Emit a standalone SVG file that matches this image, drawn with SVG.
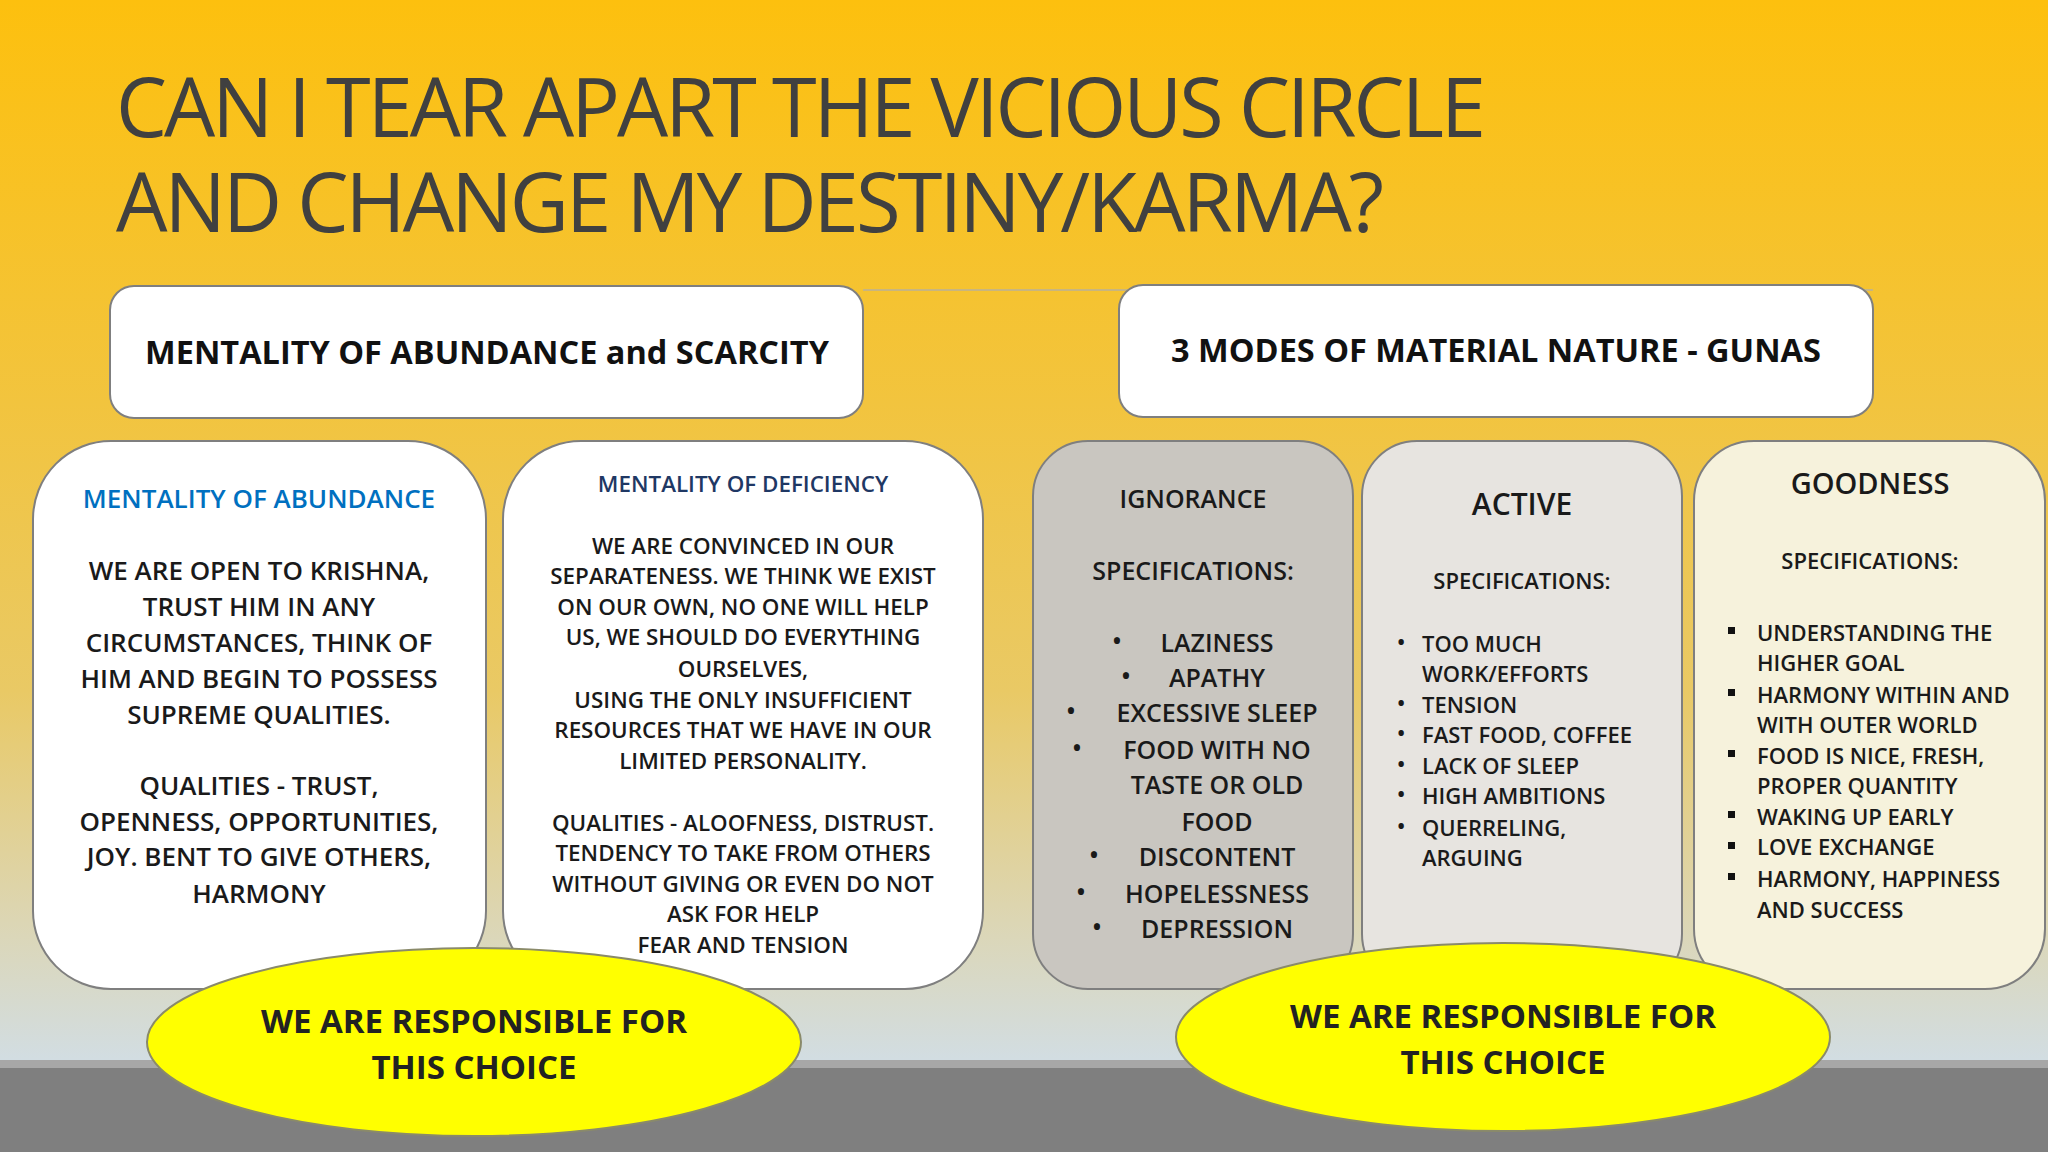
<svg xmlns="http://www.w3.org/2000/svg" width="2048" height="1152" viewBox="0 0 2048 1152">
<defs>
<linearGradient id="bg" x1="0" y1="0" x2="0" y2="1">
<stop offset="0" stop-color="#fdc00e"/>
<stop offset="0.35" stop-color="#f2c43e"/>
<stop offset="0.6" stop-color="#e9c965"/>
<stop offset="0.8" stop-color="#dcd6b4"/>
<stop offset="0.92" stop-color="#d2dde2"/>
<stop offset="1" stop-color="#d2dde2"/>
</linearGradient>
<style>
text{font-family:"Open Sans","Liberation Sans",sans-serif;font-weight:600;fill:#1a1a1a}
.title{font-size:82px;font-weight:400;fill:#404040;letter-spacing:-3px}
.hdr{font-size:32.5px;font-weight:700;text-anchor:middle;fill:#111}
.c1{font-size:26px;text-anchor:middle}
.c2{font-size:22.4px;text-anchor:middle}
.c3{font-size:25px;text-anchor:middle}
.c4{font-size:22px}
.sp{font-size:22px;text-anchor:middle}
.card{stroke:#7f7f7f;stroke-width:2}
.ell{fill:#ffff00;stroke:#8a8a6a;stroke-width:2}
.et{font-size:33px;font-weight:700;text-anchor:middle;fill:#222}
</style>
</defs>
<rect width="2048" height="1152" fill="url(#bg)"/>
<rect x="0" y="1060" width="2048" height="10" fill="#a7a7a7"/>
<rect x="0" y="1068" width="2048" height="84" fill="#7f7f7f"/>
<text class="title" x="116" y="137" textLength="1367" lengthAdjust="spacingAndGlyphs">CAN I TEAR APART THE VICIOUS CIRCLE</text>
<text class="title" x="116" y="232" textLength="1265" lengthAdjust="spacingAndGlyphs">AND CHANGE MY DESTINY/KARMA?</text>
<g id="connectors"><line x1="863" y1="290" x2="1873" y2="290" stroke="#b8b09a" stroke-width="1.5"/></g>
<g id="header1"><rect class="card" x="110" y="286" width="753" height="132" rx="24" fill="#fff"/><text class="hdr" x="487" y="364">MENTALITY OF ABUNDANCE and SCARCITY</text></g>
<g id="header2"><rect class="card" x="1119" y="285" width="754" height="132" rx="24" fill="#fff"/><text class="hdr" x="1496" y="362">3 MODES OF MATERIAL NATURE - GUNAS</text></g>
<g id="abundance"><rect class="card" x="33" y="441" width="453" height="548" rx="78" fill="#fff"/>
<text class="c1" x="259" y="508" style="fill:#0070c0">MENTALITY OF ABUNDANCE</text>
<text class="c1" x="259" y="580">WE ARE OPEN TO KRISHNA,</text>
<text class="c1" x="259" y="616">TRUST HIM IN ANY</text>
<text class="c1" x="259" y="652">CIRCUMSTANCES, THINK OF</text>
<text class="c1" x="259" y="688">HIM AND BEGIN TO POSSESS</text>
<text class="c1" x="259" y="724">SUPREME QUALITIES.</text>
<text class="c1" x="259" y="795">QUALITIES - TRUST,</text>
<text class="c1" x="259" y="831">OPENNESS, OPPORTUNITIES,</text>
<text class="c1" x="259" y="866">JOY. BENT TO GIVE OTHERS,</text>
<text class="c1" x="259" y="903">HARMONY</text></g>
<g id="deficiency"><rect class="card" x="503" y="441" width="480" height="548" rx="78" fill="#fff"/>
<text class="c2" x="743" y="492" style="fill:#1f3864">MENTALITY OF DEFICIENCY</text>
<text class="c2" x="743" y="554">WE ARE CONVINCED IN OUR</text>
<text class="c2" x="743" y="584">SEPARATENESS. WE THINK WE EXIST</text>
<text class="c2" x="743" y="615">ON OUR OWN, NO ONE WILL HELP</text>
<text class="c2" x="743" y="645">US, WE SHOULD DO EVERYTHING</text>
<text class="c2" x="743" y="677">OURSELVES,</text>
<text class="c2" x="743" y="708">USING THE ONLY INSUFFICIENT</text>
<text class="c2" x="743" y="738">RESOURCES THAT WE HAVE IN OUR</text>
<text class="c2" x="743" y="769">LIMITED PERSONALITY.</text>
<text class="c2" x="743" y="831">QUALITIES - ALOOFNESS, DISTRUST.</text>
<text class="c2" x="743" y="861">TENDENCY TO TAKE FROM OTHERS</text>
<text class="c2" x="743" y="892">WITHOUT GIVING OR EVEN DO NOT</text>
<text class="c2" x="743" y="922">ASK FOR HELP</text>
<text class="c2" x="743" y="953">FEAR AND TENSION</text></g>
<g id="ignorance"><rect class="card" x="1033" y="441" width="320" height="548" rx="55" fill="#c9c6c0"/>
<text class="c3" x="1193" y="508">IGNORANCE</text>
<text class="c3" x="1193" y="580">SPECIFICATIONS:</text>
<text class="c3" x="1217" y="652">LAZINESS</text><text class="c3" x="1117" y="650">•</text>
<text class="c3" x="1217" y="687">APATHY</text><text class="c3" x="1126" y="685">•</text>
<text class="c3" x="1217" y="722">EXCESSIVE SLEEP</text><text class="c3" x="1071" y="720">•</text>
<text class="c3" x="1217" y="759">FOOD WITH NO</text><text class="c3" x="1077" y="757">•</text>
<text class="c3" x="1217" y="794">TASTE OR OLD</text>
<text class="c3" x="1217" y="831">FOOD</text>
<text class="c3" x="1217" y="866">DISCONTENT</text><text class="c3" x="1094" y="864">•</text>
<text class="c3" x="1217" y="903">HOPELESSNESS</text><text class="c3" x="1081" y="901">•</text>
<text class="c3" x="1217" y="938">DEPRESSION</text><text class="c3" x="1097" y="936">•</text></g>
<g id="active"><rect class="card" x="1362" y="441" width="320" height="548" rx="55" fill="#e7e4e0"/>
<text class="c3" x="1522" y="515" style="font-size:30px">ACTIVE</text>
<text class="sp" x="1522" y="589">SPECIFICATIONS:</text>
<text class="c4" x="1397" y="650">•</text><text class="c4" x="1422" y="652">TOO MUCH</text>
<text class="c4" x="1422" y="682">WORK/EFFORTS</text>
<text class="c4" x="1397" y="711">•</text><text class="c4" x="1422" y="713">TENSION</text>
<text class="c4" x="1397" y="741">•</text><text class="c4" x="1422" y="743">FAST FOOD, COFFEE</text>
<text class="c4" x="1397" y="772">•</text><text class="c4" x="1422" y="774">LACK OF SLEEP</text>
<text class="c4" x="1397" y="802">•</text><text class="c4" x="1422" y="804">HIGH AMBITIONS</text>
<text class="c4" x="1397" y="834">•</text><text class="c4" x="1422" y="836">QUERRELING,</text>
<text class="c4" x="1422" y="866">ARGUING</text></g>
<g id="goodness"><rect class="card" x="1694" y="441" width="351" height="548" rx="60" fill="#f6f2dc"/>
<text class="c3" x="1870" y="494" style="font-size:29px">GOODNESS</text>
<text class="sp" x="1870" y="569">SPECIFICATIONS:</text>
<g fill="#111"><rect x="1728" y="627" width="7" height="7"/><rect x="1728" y="689" width="7" height="7"/><rect x="1728" y="750" width="7" height="7"/><rect x="1728" y="811" width="7" height="7"/><rect x="1728" y="842" width="7" height="7"/><rect x="1728" y="873" width="7" height="7"/></g>
<text class="c4" x="1757" y="641">UNDERSTANDING THE</text>
<text class="c4" x="1757" y="671">HIGHER GOAL</text>
<text class="c4" x="1757" y="703">HARMONY WITHIN AND</text>
<text class="c4" x="1757" y="733">WITH OUTER WORLD</text>
<text class="c4" x="1757" y="764">FOOD IS NICE, FRESH,</text>
<text class="c4" x="1757" y="794">PROPER QUANTITY</text>
<text class="c4" x="1757" y="825">WAKING UP EARLY</text>
<text class="c4" x="1757" y="855">LOVE EXCHANGE</text>
<text class="c4" x="1757" y="887">HARMONY, HAPPINESS</text>
<text class="c4" x="1757" y="918">AND SUCCESS</text></g>
<g id="choice1"><ellipse class="ell" cx="474" cy="1042" rx="327" ry="94"/><text class="et" x="474" y="1033">WE ARE RESPONSIBLE FOR</text><text class="et" x="474" y="1079">THIS CHOICE</text></g>
<g id="choice2"><ellipse class="ell" cx="1503" cy="1037" rx="327" ry="94"/><text class="et" x="1503" y="1028">WE ARE RESPONSIBLE FOR</text><text class="et" x="1503" y="1074">THIS CHOICE</text></g>
</svg>
